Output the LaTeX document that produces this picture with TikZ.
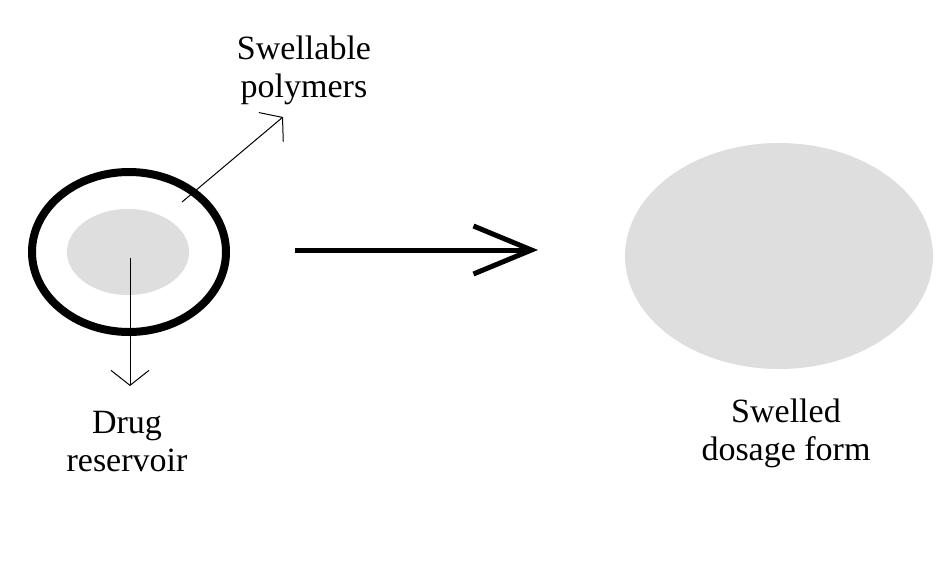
\documentclass[tikz,border=0pt]{standalone}
\usepackage{fontspec}
\setmainfont{Liberation Serif}
\usetikzlibrary{shapes.geometric,arrows.meta}
\definecolor{blobgray}{HTML}{DEDEDE}
\tikzset{
  lbl/.style={align=center,font=\fontsize{34}{38}\selectfont,inner sep=0pt},
  thinarrow/.style={line width=1pt,-{Straight Barb[length=15pt,width=38pt,line width=1pt]}},
  bigarrow/.style={line width=5pt,-{Straight Barb[length=58pt,width=48pt,line width=5pt]}},
}
\begin{document}
\begin{tikzpicture}[x=1pt,y=-1pt]
\useasboundingbox (0,0) rectangle (936,562);
\fill[white] (0,0) rectangle (936,562);
% left dosage form
\node[ellipse,fill=blobgray,minimum width=122,minimum height=86,inner sep=0pt] (core) at (128,252) {};
\node[ellipse,draw,line width=8pt,minimum width=194,minimum height=160,inner sep=0pt] (shell) at (129,252) {};
% right swelled form
\node[ellipse,fill=blobgray,minimum width=308,minimum height=226,inner sep=0pt] (swelled) at (779,256) {};
% labels
\node[lbl] (poly) at (304,70) {Swellable\\polymers};
\node[lbl] (drug) at (127,442) {Drug\\reservoir};
\node[lbl] (swtext) at (786,433) {Swelled\\dosage form};
% connectors
\coordinate (pstart) at (182,202);
\coordinate (pend) at (283,117);
\draw[thinarrow] (pstart) -- (pend);
\coordinate (dstart) at (130,258);
\coordinate (dend) at (130,386);
\draw[thinarrow] (dstart) -- (dend);
\coordinate (astart) at (295,250);
\coordinate (aend) at (538,250);
\draw[bigarrow] (astart) -- (aend);
\end{tikzpicture}
\end{document}
